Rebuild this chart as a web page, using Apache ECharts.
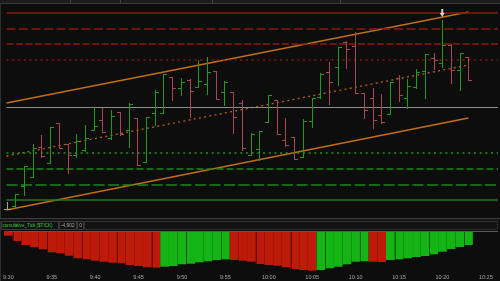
<!DOCTYPE html>
<html><head><meta charset="utf-8">
<script src="https://cdn.jsdelivr.net/npm/echarts@6/dist/echarts.min.js"></script>
<style>html,body{margin:0;padding:0;background:#0d0d0d;overflow:hidden}#c{width:500px;height:281px;}</style>
</head><body><div id="c"></div>
<script>
// ---- data (price in chart units) ----
const timeLabels = ['9:30','9:35','9:40','9:45','9:50','9:55','10:00','10:05','10:10','10:15','10:20','10:25'];
const opens  = [11,14,34.3,43.3,73.3,56.7,96.7,75.7,65,70,90,100,81.7,107.7,90,101.7,58.3,106.7,106.7,142.7,132,140,132.7,135.7,149.3,128.3,128.3,116.7,65,71,98.3,120,80,83.3,63.3,99.3,123,148.3,152.7,178.3,174,126.7,121.7,105,105.7,142,121.7,133.3,149.3,161.7,156.7,175,150,163.3];
const highs  = [17.7,26,54,76,85,92.7,96.7,75.7,86,95,113.3,111.7,110,108.3,116.7,101.7,103.3,130,146,142.7,141.7,140.7,160,163.3,149.3,139.3,128.3,120,86.7,89,125,120,101.7,83.3,101,121.7,146.7,158,173.3,179,188.3,126.7,131.7,125.7,138.3,145,141,151,165.7,166.7,200,175.7,166.7,163.3];
const lows   = [10.7,13.3,24.7,43.3,63.3,56.7,71.7,47.3,63.3,69.3,90,88.3,80.7,85,73.3,55,58.3,95,106.7,120,125,103.3,132.7,125.7,120.7,115,87.3,70,65,60,98.3,86,74,61,63.3,93,121.7,116,135,151.7,126.7,101.7,91.7,96.7,105.7,119.3,112.3,131.7,122.3,150.7,153.3,136.7,130,140];
const closes = [11,26,54,72,64,92.7,72.3,65,79,81.7,94.3,88.3,104.3,85.7,116,55,103.3,128.3,146,132.3,138,129.3,139.3,148.3,120.7,138.3,103.3,72,85.7,89,125,86,75,61,99.3,121.7,146,138.5,173.3,170.7,127,110,100,97.7,138.3,125,134.3,148.3,165.7,160,175,150,166.7,140];
const cumTick = [-1650,-3500,-4900,-5700,-6400,-7450,-7800,-8650,-9550,-9900,-10400,-10750,-11100,-11300,-11900,-12250,-12700,-12850,-12500,-12250,-11650,-11450,-10950,-10600,-10150,-9900,-10150,-10400,-10750,-11550,-11900,-12150,-12700,-13300,-13650,-13900,-13650,-13050,-12500,-11650,-10750,-10600,-10750,-10850,-10150,-9900,-9550,-9100,-8750,-8150,-7250,-6300,-5600,-4902];
const channelUpper = [117, 208];
const channelMid   = [64, 155];
const channelLower = [10, 102];
const resistanceLevels = [207.3, 191.3, 176, 160];
const pivotLevel = 113;
const supportLevels = [67, 51, 35.3, 20];
const indicatorName = 'cumulative_Tick ($TICK)';
const zeroLabel = '0';

// ---- styling ----
const GREEN = '#22981f', RED = '#a8484e', GRAY = '#a0a0a0';
const HGREEN = '#14b414', HRED = '#bd1a0a';
const lastIdx = opens.length - 1;
const XMAX = 56.4;
const FONT = 'Liberation Sans, Arial, sans-serif';

const ohlc = opens.map((o, i) => [i, o, closes[i], lows[i], highs[i]]);
const hist = cumTick.map((v, i) => [i, v, i === 0 ? (v >= 0 ? 1 : -1) : (v >= cumTick[i-1] ? 1 : -1)]);
let peak = 0; highs.forEach((h, i) => { if (h > highs[peak]) peak = i; });

const chart = echarts.init(document.getElementById('c'), null, {renderer: 'canvas'});

function lvl(v, color, type, w) {
  return {yAxis: v, lineStyle: {color, type, width: w}};
}

const option = {
  backgroundColor: '#0d0d0d',
  animation: false,
  grid: [
    {left: 6.5, right: 2, top: 0, height: 220},
    {left: 6.5, right: 2, top: 231, height: 40}
  ],
  xAxis: [
    {gridIndex: 0, type: 'value', min: 0, max: XMAX, show: false},
    {gridIndex: 1, type: 'value', min: 0, max: XMAX, interval: 5,
     axisLine: {show: false}, axisTick: {show: false}, splitLine: {show: false},
     axisLabel: {color: '#a8a8a8', fontSize: 5.5, fontFamily: FONT, margin: 3, showMaxLabel: false,
       formatter: v => timeLabels[Math.round(v / 5)] || ''}}
  ],
  yAxis: [
    {gridIndex: 0, type: 'value', min: 0, max: 220, show: false},
    {gridIndex: 1, type: 'value', min: -14000, max: 0, show: false}
  ],
  series: [
    { // level lines
      type: 'line', xAxisIndex: 0, yAxisIndex: 0, data: [], silent: true,
      markLine: {
        silent: true, symbol: 'none', label: {show: false}, animation: false,
        data: [
          lvl(resistanceLevels[0], '#861a0c', 'solid', 1.6),
          lvl(resistanceLevels[1], '#8a1a0c', [9, 3.5], 1.6),
          lvl(resistanceLevels[2], '#8a1a0c', [7, 2.5], 1.6),
          lvl(resistanceLevels[3], '#861a0c', [2, 3.7], 1.6),
          lvl(pivotLevel, '#8c8c8c', 'solid', 1.2),
          lvl(supportLevels[0], '#1b961b', [2, 3.7], 1.5),
          lvl(supportLevels[1], '#1b881b', [7, 3], 1.5),
          lvl(supportLevels[2], '#1b861b', [11, 3.5], 1.5),
          lvl(supportLevels[3], '#1c781c', 'solid', 1.7)
        ]
      }
    },
    {type: 'line', xAxisIndex: 0, yAxisIndex: 0, data: [[0, channelUpper[0]], [lastIdx, channelUpper[1]]],
     symbol: 'none', lineStyle: {color: '#c46c18', width: 1.3}, silent: true, z: 3},
    {type: 'line', xAxisIndex: 0, yAxisIndex: 0, data: [[0, channelMid[0]], [lastIdx, channelMid[1]]],
     symbol: 'none', lineStyle: {color: '#b4631a', width: 1.3, type: [2, 3.3]}, silent: true, z: 3},
    {type: 'line', xAxisIndex: 0, yAxisIndex: 0, data: [[0, channelLower[0]], [lastIdx, channelLower[1]]],
     symbol: 'none', lineStyle: {color: '#c46c18', width: 1.3}, silent: true, z: 3},
    { // OHLC bars
      type: 'custom', xAxisIndex: 0, yAxisIndex: 0, data: ohlc, clip: false, z: 5,
      renderItem: function (params, api) {
        const i = api.value(0), o = api.value(1), c = api.value(2), l = api.value(3), h = api.value(4);
        const pO = api.coord([i, o]), pC = api.coord([i, c]), pL = api.coord([i, l]), pH = api.coord([i, h]);
        const x = Math.round(pO[0]) + 0.5;
        const color = c > o ? GREEN : (c < o ? RED : GRAY);
        const t = 3.5;
        const yo = Math.round(pO[1]) + 0.5, yc = Math.round(pC[1]) + 0.5;
        return {type: 'group', children: [
          {type: 'line', shape: {x1: x, y1: Math.round(pH[1]), x2: x, y2: Math.round(pL[1]) + 1}, style: {stroke: color, lineWidth: 1}},
          {type: 'line', shape: {x1: x - t, y1: yo, x2: x, y2: yo}, style: {stroke: color, lineWidth: 1}},
          {type: 'line', shape: {x1: x, y1: yc, x2: x + t, y2: yc}, style: {stroke: color, lineWidth: 1}}
        ]};
      }
    },
    { // peak arrow
      type: 'scatter', xAxisIndex: 0, yAxisIndex: 0, data: [[peak, highs[peak]]], z: 6, silent: true,
      symbol: 'path://M3,0 L7,0 L7,6 L10,6 L5,12 L0,6 L3,6 Z', symbolSize: [5, 8], symbolOffset: [0, -7],
      itemStyle: {color: '#ffffff'}
    },
    { // zero line of histogram
      type: 'line', xAxisIndex: 1, yAxisIndex: 1, data: [], silent: true,
      markLine: {silent: true, symbol: 'none', label: {show: false}, animation: false,
        data: [{yAxis: 0, lineStyle: {color: '#5a5a5a', type: 'solid', width: 1}}]}
    },
    { // cumulative tick histogram
      type: 'custom', xAxisIndex: 1, yAxisIndex: 1, data: hist, clip: false, z: 4,
      renderItem: function (params, api) {
        const i = api.value(0), v = api.value(1), dir = api.value(2);
        const p0 = api.coord([i - 0.5, 0]), p1 = api.coord([i + 0.5, v]);
        const color = dir > 0 ? HGREEN : HRED;
        const children = [{type: 'rect', shape: {x: p0[0], y: p0[1], width: p1[0] - p0[0], height: p1[1] - p0[1]},
                 style: {fill: color}}];
        if (i % 4 === 1) {
          const xs = Math.round(p0[0]) + 0.5;
          children.push({type: 'line', shape: {x1: xs, y1: p0[1], x2: xs, y2: p1[1]}, style: {stroke: 'rgba(0,0,0,0.45)', lineWidth: 1}});
        }
        return {type: 'group', children};
      }
    }
  ],
  graphic: [
    {type: 'rect', shape: {x: 0, y: 0, width: 500, height: 3}, style: {fill: '#1c1c1c'}, z: 10, silent: true},
    {type: 'line', shape: {x1: 0, y1: 3.5, x2: 500, y2: 3.5}, style: {stroke: '#3a3a3a', lineWidth: 1}, z: 10, silent: true},
    {type: 'line', shape: {x1: 70.5, y1: 0, x2: 70.5, y2: 3}, style: {stroke: '#444', lineWidth: 1}, z: 11, silent: true},
    {type: 'line', shape: {x1: 120.5, y1: 0, x2: 120.5, y2: 3}, style: {stroke: '#444', lineWidth: 1}, z: 11, silent: true},
    {type: 'line', shape: {x1: 212.5, y1: 0, x2: 212.5, y2: 3}, style: {stroke: '#444', lineWidth: 1}, z: 11, silent: true},
    {type: 'line', shape: {x1: 340.5, y1: 0, x2: 340.5, y2: 3}, style: {stroke: '#444', lineWidth: 1}, z: 11, silent: true},
    {type: 'line', shape: {x1: 0.5, y1: 3, x2: 0.5, y2: 281}, style: {stroke: '#2e2e2e', lineWidth: 1}, z: 10, silent: true},
    {type: 'rect', shape: {x: 0, y: 218, width: 500, height: 3}, style: {fill: '#151515'}, z: 10, silent: true},
    {type: 'line', shape: {x1: 0, y1: 218.5, x2: 500, y2: 218.5}, style: {stroke: '#3c3c3c', lineWidth: 1}, z: 10, silent: true},
    // legend row
    {type: 'rect', shape: {x: 1.5, y: 221.5, width: 57, height: 8}, style: {fill: '#121212', stroke: '#3a3a3a', lineWidth: 1}, z: 10, silent: true},
    {type: 'text', x: 2.5, y: 225.8, style: {text: indicatorName, fill: '#3cc83c', fontSize: 4.6, fontFamily: FONT, verticalAlign: 'middle'}, z: 11, silent: true},
    {type: 'rect', shape: {x: 59.5, y: 221.5, width: 17, height: 8}, style: {fill: '#121212', stroke: '#3a3a3a', lineWidth: 1}, z: 10, silent: true},
    {type: 'text', x: 61, y: 225.8, style: {text: cumTick[lastIdx].toLocaleString('en-US'), fill: '#a8a8a8', fontSize: 4.8, fontFamily: FONT, verticalAlign: 'middle'}, z: 11, silent: true},
    {type: 'rect', shape: {x: 77.5, y: 221.5, width: 6, height: 8}, style: {fill: '#121212', stroke: '#3a3a3a', lineWidth: 1}, z: 10, silent: true},
    {type: 'text', x: 79.2, y: 225.8, style: {text: zeroLabel, fill: '#a8a8a8', fontSize: 4.8, fontFamily: FONT, verticalAlign: 'middle'}, z: 11, silent: true},
    {type: 'rect', shape: {x: 84.5, y: 221.5, width: 413, height: 8}, style: {fill: '#121212', stroke: '#2e2e2e', lineWidth: 1}, z: 10, silent: true}
  ]
};
chart.setOption(option);
</script></body></html>
